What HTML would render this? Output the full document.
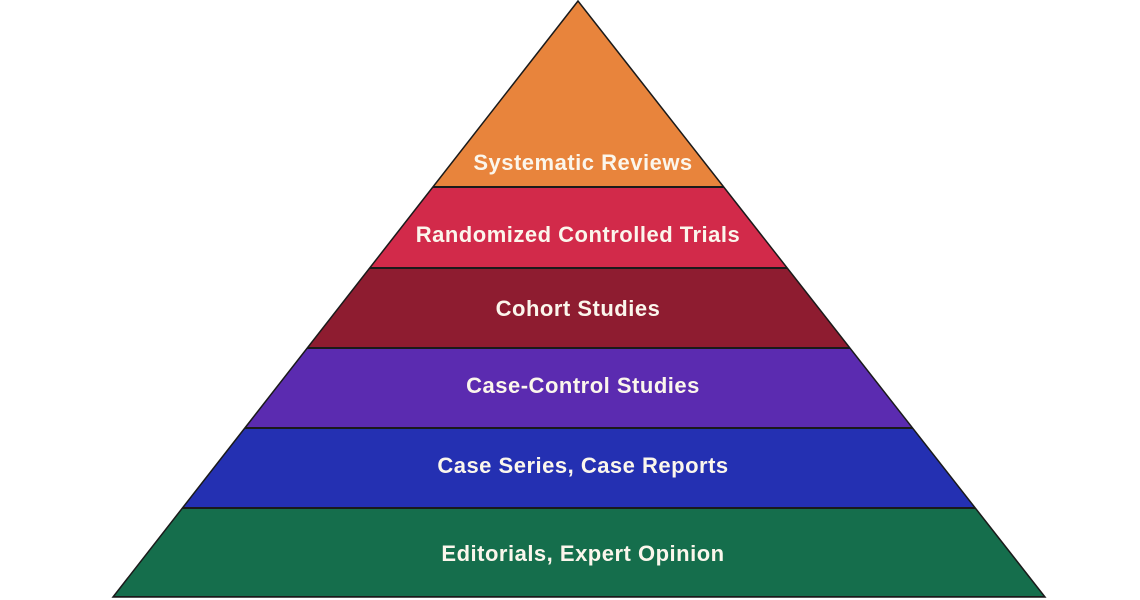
<!DOCTYPE html>
<html><head><meta charset="utf-8"><style>
html,body{margin:0;padding:0;background:#fff;width:1140px;height:600px;overflow:hidden}
text{font-family:"Liberation Sans",Arial,sans-serif;font-weight:bold;font-size:22px;letter-spacing:0.5px;fill:#fbf6ec;text-anchor:middle}
</style></head><body>
<svg width="1140" height="600" viewBox="0 0 1140 600" xmlns="http://www.w3.org/2000/svg">
<defs><clipPath id="tri"><polygon points="578,1 113,597 1045,597"/></clipPath></defs>
<g clip-path="url(#tri)">
<rect x="0" y="0" width="1140" height="187" fill="#e8843c"/>
<rect x="0" y="187" width="1140" height="81" fill="#d22a4a"/>
<rect x="0" y="268" width="1140" height="80" fill="#8e1c30"/>
<rect x="0" y="348" width="1140" height="80" fill="#5b2bb0"/>
<rect x="0" y="428" width="1140" height="80" fill="#2430b2"/>
<rect x="0" y="508" width="1140" height="92" fill="#156e4c"/>
<g stroke="#1a1a1a" stroke-width="2">
<line x1="0" y1="187" x2="1140" y2="187"/>
<line x1="0" y1="268" x2="1140" y2="268"/>
<line x1="0" y1="348" x2="1140" y2="348"/>
<line x1="0" y1="428" x2="1140" y2="428"/>
<line x1="0" y1="508" x2="1140" y2="508"/>
<line x1="0" y1="597" x2="1140" y2="597"/>
</g>
</g>
<polygon points="578,1 113,597 1045,597" fill="none" stroke="#1a1a1a" stroke-width="1.5"/>
<text x="583" y="170">Systematic Reviews</text>
<text x="578" y="242">Randomized Controlled Trials</text>
<text x="578" y="316">Cohort Studies</text>
<text x="583" y="393">Case-Control Studies</text>
<text x="583" y="473">Case Series, Case Reports</text>
<text x="583" y="561">Editorials, Expert Opinion</text>
</svg>
</body></html>
